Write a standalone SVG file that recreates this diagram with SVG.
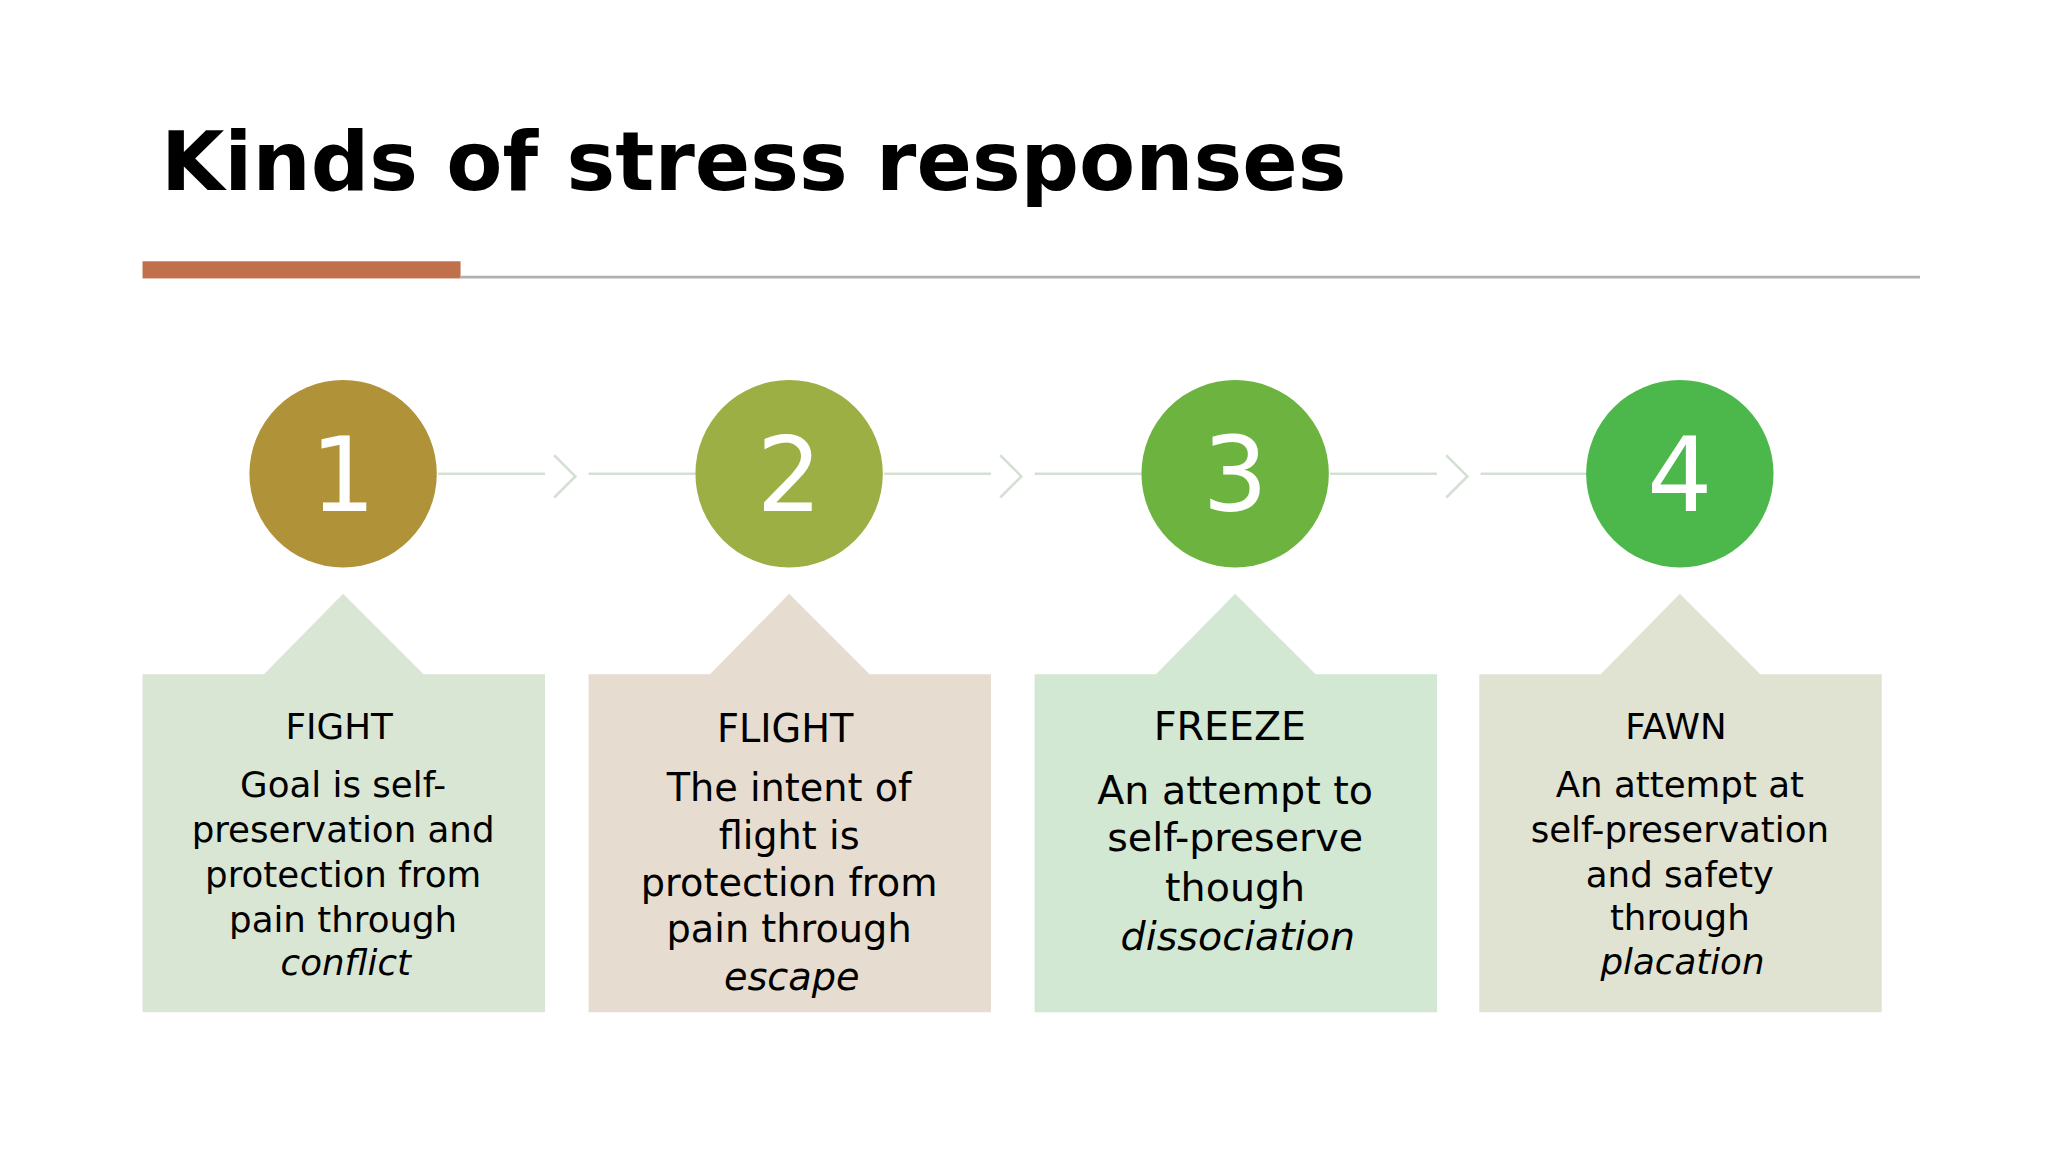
<svg xmlns="http://www.w3.org/2000/svg" width="2048" height="1152" viewBox="0 0 2048 1152">
<style>
.t{font-family:"DejaVu Sans",Verdana,sans-serif;fill:#000;text-anchor:middle}
.b{font-size:27px}
.i{font-style:italic}
.n{font-family:"DejaVu Sans",sans-serif;font-size:78px;fill:#fff;text-anchor:middle}
.c{stroke:#d3e0d3;stroke-width:2;fill:none}
</style>
<rect width="2048" height="1152" fill="#fff"/>
<g transform="scale(1.3196)">
<g id="title">
<text x="122" y="144" font-family="DejaVu Sans,Verdana,sans-serif" font-weight="bold" font-size="62">Kinds of stress responses</text>
<rect x="108" y="198" width="241" height="13" fill="#c0714b"/>
<line x1="349" y1="210" x2="1455" y2="210" stroke="#b0b0b0" stroke-width="2"/>
</g>
<g id="connectors">
<path class="c" d="M332 359H413M420 345L436 361L420 377M446 359H527"/>
<path class="c" d="M670 359H751M758 345L774 361L758 377M784 359H865"/>
<path class="c" d="M1008 359H1089M1096 345L1112 361L1096 377M1122 359H1203"/>
</g>
<g id="n1">
<circle cx="260" cy="359" r="71" fill="#b09238"/><text class="n" x="260" y="387">1</text>
<path d="M108 511H200L260 450L321 511H413V767H108Z" fill="#d9e6d3"/>
<text class="t b"><tspan x="257" y="560">FIGHT</tspan><tspan x="260" y="604">Goal is self-</tspan><tspan x="260" y="638">preservation and</tspan><tspan x="260" y="672">protection from</tspan><tspan x="260" y="706">pain through</tspan><tspan x="262" y="739" class="i">conflict</tspan></text>
</g>
<g id="n2">
<circle cx="598" cy="359" r="71" fill="#9caf45"/><text class="n" x="598" y="387">2</text>
<path d="M446 511H538L598 450L659 511H751V767H446Z" fill="#e6ddd0"/>
<text class="t" font-size="29"><tspan x="595" y="562">FLIGHT</tspan><tspan x="598" y="607">The intent of</tspan><tspan x="598" y="643">flight is</tspan><tspan x="598" y="679">protection from</tspan><tspan x="598" y="714">pain through</tspan><tspan x="600" y="750" class="i">escape</tspan></text>
</g>
<g id="n3">
<circle cx="936" cy="359" r="71" fill="#6db33f"/><text class="n" x="936" y="387">3</text>
<path d="M784 511H876L936 450L997 511H1089V767H784Z" fill="#d2e8d2"/>
<text class="t" font-size="30"><tspan x="932" y="561">FREEZE</tspan><tspan x="936" y="609">An attempt to</tspan><tspan x="936" y="645">self-preserve</tspan><tspan x="936" y="683">though</tspan><tspan x="938" y="720" class="i">dissociation</tspan></text>
</g>
<g id="n4">
<circle cx="1273" cy="359" r="71" fill="#4cb74a"/><text class="n" x="1273" y="387">4</text>
<path d="M1121 511H1213L1273 450L1334 511H1426V767H1121Z" fill="#e1e3d2"/>
<text class="t b"><tspan x="1270" y="560">FAWN</tspan><tspan x="1273" y="604">An attempt at</tspan><tspan x="1273" y="638">self-preservation</tspan><tspan x="1273" y="672">and safety</tspan><tspan x="1273" y="705">through</tspan><tspan x="1275" y="738" class="i">placation</tspan></text>
</g>
</g>
</svg>
